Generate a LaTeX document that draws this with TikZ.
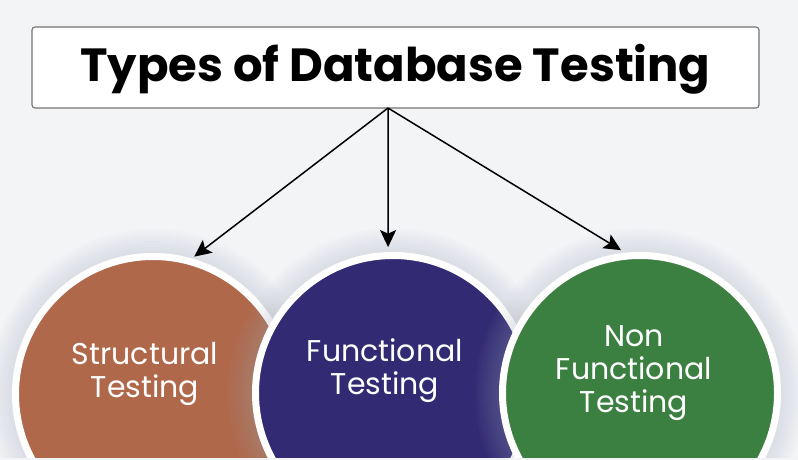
\documentclass[tikz,border=0pt]{standalone}
\usepackage{fontspec}
\setmainfont{Poppins}
\usetikzlibrary{arrows.meta, positioning}

\definecolor{bgcol}{HTML}{F3F4F6}
\definecolor{haloc}{HTML}{A7AFBF}
\definecolor{structc}{HTML}{B0684B}
\definecolor{funcc}{HTML}{322B74}
\definecolor{nonfuncc}{HTML}{3B7F41}

\begin{document}
\begin{tikzpicture}[
        x = 1pt, y = -1pt,
        >= {Stealth[length = 17pt, width = 16pt, inset = 3.5pt]},
        title/.style = {draw = black!55, line width = 1.1pt, fill = white, rounded corners = 3pt,
            minimum width = 727pt, minimum height = 81pt, inner sep = 0pt,
            text height = 33pt, text depth = 5pt,
            font = \fontsize{46.5}{50}\selectfont\bfseries},
        kind/.style = {circle, draw = white, line width = 7pt,
            minimum size = 275pt, inner sep = 0pt, outer sep = 3.5pt},
        kind text/.style = {text = white, align = center,
            font = \fontsize{30}{33}\selectfont},
        halo/.style = {fill = haloc, fill opacity = 0.035, draw = none}
    ]
      \useasboundingbox (0,0) rectangle (798,460);
      \fill[bgcol] (0,0) rectangle (798,460);

      \node[title] (head) at (395.5,67.5) {Types of Database Testing};
      \coordinate (root) at (388,108);

      \begin{scope}
        \clip (0,0) rectangle (798,457);
        % brown, purple, green: each one overlaps the one before
        \foreach \r in {3,6,...,24}
          \fill[halo] (153,394) circle [radius = 141pt + \r pt];
        \node[kind, fill = structc] (struct) at (153,394) {};
        \foreach \r in {3,6,...,24}
          \fill[halo] (393,393) circle [radius = 141pt + \r pt];
        \node[kind, fill = funcc] (func) at (393,393) {};
        \foreach \r in {3,6,...,24}
          \fill[halo] (640,393) circle [radius = 141pt + \r pt];
        \node[kind, fill = nonfuncc] (nonfunc) at (640,393) {};
      \end{scope}

      \node[kind text] (structlbl) at ([xshift = -8pt, yshift = 20pt]struct.center) {Structural\\Testing};
      \node[kind text] (funclbl) at ([xshift = -8pt, yshift = 22pt]func.center) {Functional\\Testing};
      \node[kind text] (nonfunclbl) at ([xshift = -6pt, yshift = 20pt]nonfunc.center) {Non\\Functional\\Testing};

      \path[->, line width = 1.5pt]
        (root) edge [shorten >= 3pt] (struct.74)
        (root) edge [shorten >= 5pt] (func.92)
        (root) edge [shorten >= 5pt] (nonfunc.96);
    \end{tikzpicture}
\end{document}
